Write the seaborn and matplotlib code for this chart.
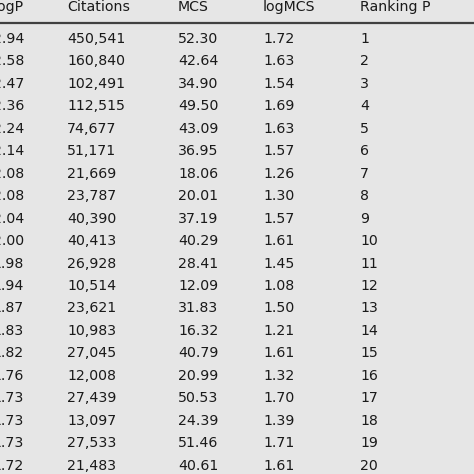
import matplotlib
matplotlib.use("Agg")
import matplotlib.pyplot as plt
import seaborn as sns

sns.set_theme(style="white")
plt.rcParams['font.family'] = ['DejaVu Sans']

headers = ["logP", "Citations", "MCS", "logMCS", "Ranking P"]
logP = ["2.94","2.58","2.47","2.36","2.24","2.14","2.08","2.08","2.04","2.00",
        "1.98","1.94","1.87","1.83","1.82","1.76","1.73","1.73","1.73","1.72"]
citations = ["450,541","160,840","102,491","112,515","74,677","51,171","21,669","23,787","40,390","40,413",
             "26,928","10,514","23,621","10,983","27,045","12,008","27,439","13,097","27,533","21,483"]
mcs = [52.30,42.64,34.90,49.50,43.09,36.95,18.06,20.01,37.19,40.29,
       28.41,12.09,31.83,16.32,40.79,20.99,50.53,24.39,51.46,40.61]
logmcs = [1.72,1.63,1.54,1.69,1.63,1.57,1.26,1.30,1.57,1.61,
          1.45,1.08,1.50,1.21,1.61,1.32,1.70,1.39,1.71,1.61]
ranking = list(range(1, 21))

fig = plt.figure(figsize=(4.74, 4.74), dpi=100)
fig.patch.set_facecolor("#e6e6e6")
ax = fig.add_axes([0, 0, 1, 1])
ax.set_facecolor("#e6e6e6")
ax.set_xlim(0, 474)
ax.set_ylim(474, 0)
ax.axis("off")

fs = 10.2
col = "#1a1a1a"
ax.text(24, 7, headers[0], ha="right", va="center", fontsize=fs, color=col)
ax.text(67, 7, headers[1], ha="left", va="center", fontsize=fs, color=col)
ax.text(178, 7, headers[2], ha="left", va="center", fontsize=fs, color=col)
ax.text(263, 7, headers[3], ha="left", va="center", fontsize=fs, color=col)
ax.text(360, 7, headers[4], ha="left", va="center", fontsize=fs, color=col)
ax.plot([0, 474], [22.5, 22.5], color="#404040", lw=1.6)

y0, dy = 39, 22.45
for i in range(20):
    y = y0 + i * dy
    ax.text(24, y, logP[i], ha="right", va="center", fontsize=fs, color=col)
    ax.text(67, y, citations[i], ha="left", va="center", fontsize=fs, color=col)
    ax.text(178, y, f"{mcs[i]:.2f}", ha="left", va="center", fontsize=fs, color=col)
    ax.text(263, y, f"{logmcs[i]:.2f}", ha="left", va="center", fontsize=fs, color=col)
    ax.text(360, y, str(ranking[i]), ha="left", va="center", fontsize=fs, color=col)

fig.savefig("out.png", dpi=100, facecolor=fig.get_facecolor())
